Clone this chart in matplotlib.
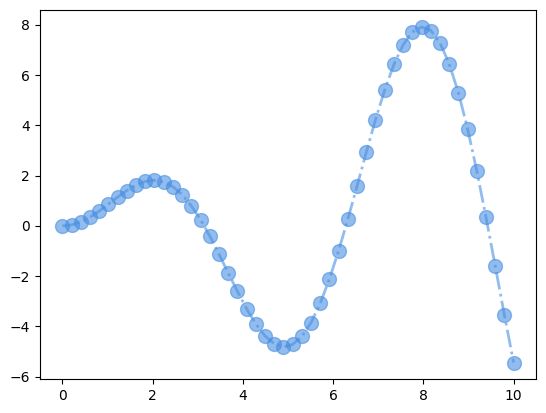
import numpy as np
import matplotlib.pyplot as plt

x = np.linspace(0, 10, 50)
y = [0.00, 0.04, 0.16, 0.35, 0.59, 0.87, 1.15, 1.41, 1.63, 1.77,
     1.82, 1.75, 1.56, 1.25, 0.80, 0.25, -0.40, -1.12, -1.87, -2.60,
     -3.30, -3.90, -4.38, -4.69, -4.82, -4.72, -4.40, -3.85, -3.08, -2.11,
     -0.98, 0.27, 1.59, 2.93, 4.23, 5.41, 6.43, 7.21, 7.72, 7.92,
     7.78, 7.29, 6.46, 5.31, 3.87, 2.19, 0.35, -1.59, -3.55, -5.44]

fig = plt.figure(figsize=(5.46, 4.13), dpi=100)
ax = fig.add_axes([0.073, 0.082, 0.909, 0.894])
ax.plot(x, y, "-.", color="#4a90e2", linewidth=2, alpha=0.6,
        marker="o", markersize=10)
ax.set_xlim(-0.5, 10.5)
ax.set_ylim(-6.1, 8.6)
fig.savefig("out.png", dpi=100)
